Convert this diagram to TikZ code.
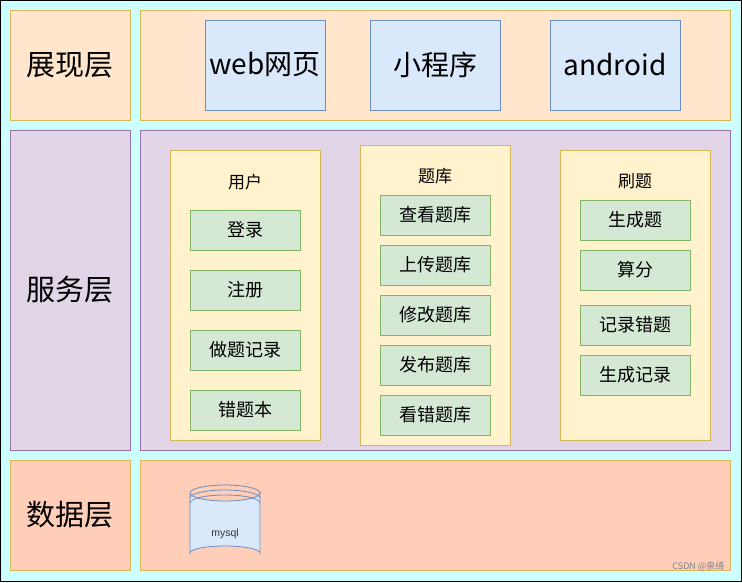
\documentclass[tikz,border=0pt]{standalone}
\usepackage{fontspec}
\setmainfont{Liberation Sans}
\newfontfamily\cjk{Noto Sans CJK SC}
\definecolor{bgc}{HTML}{CCFFFF}
\definecolor{topf}{HTML}{FFE6CC}
\definecolor{gold}{HTML}{D6B656}
\definecolor{purf}{HTML}{E1D5E7}
\definecolor{purd}{HTML}{9673A6}
\definecolor{botf}{HTML}{FFCEB9}
\definecolor{yelf}{HTML}{FFF2CC}
\definecolor{grnf}{HTML}{D5E8D4}
\definecolor{grnd}{HTML}{82B366}
\definecolor{bluf}{HTML}{DAE8FC}
\definecolor{blud}{HTML}{6C8EBF}
\tikzset{
 box/.style={draw, line width=1pt, inner sep=0pt},
 grp/.style={box, draw=gold, fill=yelf},
 item/.style={box, draw=grnd, fill=grnf, minimum width=110pt, minimum height=40pt, font=\cjk\fontsize{18}{21}\selectfont},
 app/.style={box, draw=blud, fill=bluf, minimum width=120pt, minimum height=90pt, font=\cjk\fontsize{28}{31}\selectfont},
 lay/.style={font=\cjk\fontsize{29}{32}\selectfont},
 gt/.style={font=\cjk\fontsize{17}{20}\selectfont}
}
\begin{document}
\begin{tikzpicture}[x=1pt,y=-1pt]
\draw[fill=bgc, draw=black, line width=1pt] (0.5,0.5) rectangle (741.5,581.5);
\useasboundingbox (0,0) rectangle (742,582);
% layers
\draw[box, draw=gold, fill=topf] (10,10) rectangle (130,120);
\node[lay] (l1) at (70,65) {展现层};
\draw[box, draw=gold, fill=topf] (140,10) rectangle (730,120);
\draw[box, draw=purd, fill=purf] (10,130) rectangle (130,450);
\node[lay] (l2) at (70,290) {服务层};
\draw[box, draw=purd, fill=purf] (140,130) rectangle (730,450);
\draw[box, draw=gold, fill=botf] (10,460) rectangle (130,570);
\node[lay] (l3) at (70,515) {数据层};
\draw[box, draw=gold, fill=botf] (140,460) rectangle (730,570);
% apps
\node[app] (a1) at (265,65) {web网页};
\node[app, minimum width=130pt] (a2) at (435,65) {小程序};
\node[app, minimum width=130pt] (a3) at (615,65) {android};
% groups
\draw[grp] (170,150) rectangle (320,440);
\node[gt] (g1) at (245,182) {用户};
\node[item] (u1) at (245,230) {登录};
\node[item] (u2) at (245,290) {注册};
\node[item] (u3) at (245,350) {做题记录};
\node[item] (u4) at (245,410) {错题本};
\draw[grp] (360,145) rectangle (510,445);
\node[gt] (g2) at (435,176) {题库};
\node[item] (t1) at (435,215) {查看题库};
\node[item] (t2) at (435,265) {上传题库};
\node[item] (t3) at (435,315) {修改题库};
\node[item] (t4) at (435,365) {发布题库};
\node[item] (t5) at (435,415) {看错题库};
\draw[grp] (560,150) rectangle (710,440);
\node[gt] (g3) at (635,181) {刷题};
\node[item] (s1) at (635,220) {生成题};
\node[item] (s2) at (635,270) {算分};
\node[item] (s3) at (635,325) {记录错题};
\node[item] (s4) at (635,375) {生成记录};
% cylinder
\draw[blud, fill=bluf, line width=0.8pt] (190,493) -- (190,553) arc[start angle=180,end angle=360,x radius=35,y radius=7] -- (260,493) arc[start angle=0,end angle=180,x radius=35,y radius=8];
\draw[blud, line width=0.8pt] (190,493) arc[start angle=180,end angle=360,x radius=35,y radius=8];
\draw[blud, line width=0.8pt] (190,498) arc[start angle=180,end angle=360,x radius=35,y radius=8];
\draw[blud, line width=0.8pt] (190,503) arc[start angle=180,end angle=360,x radius=35,y radius=8];
\node[font=\fontsize{10.5}{12}\selectfont, text=black!80] (db) at (225,534) {mysql};
\node[font=\cjk\fontsize{9}{11}\selectfont, text=gray, anchor=east] (wm) at (728,566) {CSDN @泉绮};
\end{tikzpicture}
\end{document}
